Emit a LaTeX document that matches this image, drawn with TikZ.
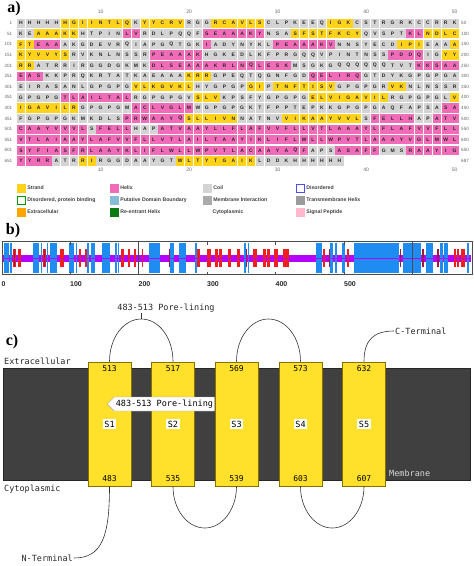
\documentclass[tikz,border=0pt]{standalone}
\usepackage{fontspec}
\setmainfont{Liberation Serif}
\setsansfont{Liberation Sans}
\setmonofont{DejaVu Sans Mono}
\usetikzlibrary{positioning,shapes.symbols}

\definecolor{seqY}{HTML}{FFD21C}
\definecolor{seqP}{HTML}{F06CB8}
\definecolor{seqG}{HTML}{D4D4D4}
\definecolor{legOrange}{HTML}{FFA500}
\definecolor{legBlue}{HTML}{86BCD8}
\definecolor{legGreen}{HTML}{0B7A12}
\definecolor{legMemb}{HTML}{ABABAB}
\definecolor{legTM}{HTML}{9B9B9B}
\definecolor{legSignal}{HTML}{FFB8CC}
\definecolor{barBlue}{HTML}{1E8CF0}
\definecolor{barRed}{HTML}{F01E1E}
\definecolor{barDark}{HTML}{A0183C}
\definecolor{barViolet}{HTML}{B400FF}
\definecolor{helixY}{HTML}{FFE12C}
\definecolor{helixEdge}{HTML}{8A7000}
\definecolor{membGray}{HTML}{404040}

% Sequência: um nó por resíduo
\newcounter{seqrow}
\newcounter{seqcol}
\newcommand\seqcell[2]{%
  \stepcounter{seqcol}%
  \node[res,fill=seq#1] (r\arabic{seqrow}c\arabic{seqcol})
    at ({12.075+8.85*\arabic{seqcol}},{12.6+10.6*\arabic{seqrow}}) {#2};}
\ExplSyntaxOn
\cs_new_protected:Npn \seqseg #1#2
  { \tl_map_inline:Nn #2 { \exp_args:No \seqcell {#1} {##1} } }
\ExplSyntaxOff
\newcommand\seqrow[2]{%
  \setcounter{seqrow}{#1}\setcounter{seqcol}{0}%
  \foreach \rc/\rs in {#2}{\seqseg{\rc}{\rs}}}
\newcommand\bx[1]{1.5+0.685*#1}

\tikzset{
  res/.style={rectangle, minimum width=8.3pt, minimum height=9.2pt, inner sep=0pt,
    font=\sffamily\bfseries\fontsize{5}{5}\selectfont, text=black!85},
  rownum/.style={inner sep=0.5pt, font=\sffamily\fontsize{4.6}{5}\selectfont, text=black!60},
  colnum/.style={inner sep=0.5pt, font=\sffamily\fontsize{5}{5}\selectfont, text=black!60},
  panel/.style={inner sep=0pt, font=\rmfamily\bfseries\fontsize{16}{16}\selectfont},
  legbox/.style={rectangle, minimum width=7.7pt, minimum height=8pt, inner sep=0pt},
  legtext/.style={inner sep=0.5pt, font=\sffamily\bfseries\fontsize{5.2}{6}\selectfont, text=black!75},
  axnum/.style={inner sep=0pt, font=\sffamily\bfseries\fontsize{7}{7}\selectfont, text=black!85},
  axisline/.style={draw=black!70, line width=0.6pt},
  tmhelix/.style={rectangle, fill=helixY, draw=helixEdge, line width=0.9pt,
    minimum width=43pt, minimum height=124pt, inner sep=0pt},
  tmnum/.style={inner sep=0.5pt, font=\ttfamily\fontsize{8}{8}\selectfont},
  tmtag/.style={fill=white, inner sep=1.8pt, font=\ttfamily\fontsize{8.5}{8.5}\selectfont},
  tmtext/.style={inner sep=1pt, font=\ttfamily\fontsize{8.5}{8.5}\selectfont, text=black!85},
  porebox/.style={shape=signal, signal to=west, fill=white, draw=black!35, line width=0.4pt,
    inner sep=1.5pt, minimum height=14pt, font=\ttfamily\fontsize{8.5}{8.5}\selectfont},
  loopline/.style={draw=black!80, line width=0.6pt},
}

\begin{document}
\begin{tikzpicture}[x=1pt, y=-1pt]
  \useasboundingbox (0,0) rectangle (474,566);

  % Painel a)
  \node[panel] (pa) at (14,9) {a)};
  \foreach \k in {10,20,30,40,50} {
    \node[colnum] (ct\k) at ({12.075+8.85*\k},11.5) {\k};
    \node[colnum] (cb\k) at ({12.075+8.85*\k},170) {\k};
  }
  \foreach \i/\lft/\rgt in {1/1/50,2/51/100,3/101/150,4/151/200,5/201/250,6/251/300,
      7/301/350,8/351/400,9/401/450,10/451/500,11/501/550,12/551/600,13/601/650,14/651/687} {
    \node[rownum, anchor=east] (rl\i) at (13,{12.6+10.6*\i}) {\lft};
    \node[rownum, anchor=west] (rr\i) at (460.5,{12.6+10.6*\i}) {\rgt};
  }

  \seqrow{1}{G/HHHHH,Y/HGIINTLQ,G/K,Y/YYCRV,G/RGG,Y/RCAVLS,G/CLPKEEQ,Y/IGK,G/CSTRGRKCCRRK}
  \seqrow{2}{G/KE,Y/AAAKK,G/HTPIN,P/LV,G/RDLPQQF,P/SEAAAKY,G/NSA,Y/SFSTFKCY,G/QVSPT,P/KL,Y/NDLC}
  \seqrow{3}{Y/FT,P/EAA,G/AKGDEVRQIAPGQTGK,P/I,G/ADYNYKL,P/PEAAAKV,G/NNSYECD,Y/IPI,G/EAA,Y/A}
  \seqrow{4}{Y/KYVVYS,G/RVKNLNSSR,P/PEAAAK,G/HGKEDLKFPRGQQVPINTNSS,P/PDDQ,G/IG,Y/YY}
  \seqrow{5}{Y/RR,G/ATRRIRGGDGKMK,P/DLSEAAAKRLNQLESK,G/MSGKGQQQQQQTVT,P/KKSAA}
  \seqrow{6}{P/EAS,G/KKPRQKRTATKAEAAA,Y/KRR,G/GPEQTQGNFGD,P/QELIRQ,G/GTDYKGPGPGA}
  \seqrow{7}{G/EIRASANLGPGPG,Y/VLKGVKL,G/HYGPGP,Y/GI,G/P,Y/TNFTISV,G/GPGPGR,Y/VK,G/NLNSSR}
  \seqrow{8}{G/GPGPG,P/TLAILTAL,G/RGPGPGV,Y/SLV,G/KPSFYGPGPG,Y/ELVIGAVIL,G/RGPGPGL,Y/V}
  \seqrow{9}{Y/IGAVILR,G/GPGPGM,P/ACLVGLM,G/WGPGPGKTFPPTEPKKGPGPGAQFAPSA,P/SA}
  \seqrow{10}{G/FGPGPGKMKDLS,P/PRWAAYQ,Y/SLLIVN,G/NATNV,Y/VIKAAYVVL,G/S,P/FELLH,G/AP,P/ATV}
  \seqrow{11}{P/CAAYVVVL,G/S,P/FELL,G/HAP,P/ATVAAYLLFLAFVVFLLVTLAAAYLFLAFVVFLL}
  \seqrow{12}{P/VTLAIAAYLAFVVFLLVTLAILTAAYIKLIFLWLLWPVTLAAAYVGLMWL}
  \seqrow{13}{P/SYFIASFRLAAYKLIFLWLLWPVTLACAAYAQF,G/APS,P/ASAFF,G/GMS,P/RAAYIG}
  \seqrow{14}{P/YYRR,G/ATR,Y/RI,G/RGGDAAYGT,Y/WLTYTGAIK,G/LDDKHHHHHH}

  % Legenda
  \foreach \nm/\cx/\cy/\fc/\dc/\txt in {
      strand/21/188/seqY/seqY/Strand,
      dprot/21/200/white/green!60!black/{Disordered, protein binding},
      extra/21/212/legOrange/legOrange/Extracellular,
      helix/114/188/seqP/seqP/Helix,
      domain/114/200/legBlue/legBlue/Putative Domain Boundary,
      reent/114/212/legGreen/legGreen/Re-entrant Helix,
      coil/207/188/seqG/seqG/Coil,
      membint/207/200/legMemb/legMemb/Membrane Interaction,
      disord/300/188/white/blue!70/Disordered,
      tmh/300/200/legTM/legTM/Transmembrane Helix,
      signal/300/212/legSignal/legSignal/Signal Peptide} {
    \node[legbox, fill=\fc, draw=\dc, line width=0.6pt] (l\nm) at (\cx,\cy) {};
    \node[legtext, right=1.5pt of l\nm] (l\nm txt) {\txt};
  }
  \node[legtext, anchor=west] (lcyto txt) at (211.8,212) {Cytoplasmic};

  % Painel b)
  \node[panel] (pb) at (13,231) {b)};
  \fill[barViolet] (3,254.5) rectangle (471,261.5);
  \foreach \a/\b in {4/11,12/16,46/55,58/59,66/68,71/81,98/106,109/110.5,125.5/127.5,
      130.5/136.5,146/158,166/168,170.5/172,215/231.5,246/252,259/269,282/285,354.5/356.5,
      360.5/361.5,459/468,479.5/484.5,487/490.5,496.5/501.5,515/528.5,529.7/547.5,
      548.5/559.5,560.4/572.3,573.3/579.8,586.5/596,597/612,620.4/630.4,640.3/645.2,
      646.2/652.2,679/682}
    \fill[barBlue] ({\bx{\a}},243) rectangle ({\bx{\b}},273);
  \foreach \a/\b in {17/21,24/29,61/65,86/91,112.5/115.5,121.5/124.5,175/179,185/188,
      193/197,204.8/206.8,286/290,299.5/305.5,312/316.4,317.4/321.8,330.8/335.7,343.7/348.6,
      367.5/372.4,382.4/386.8,387.8/392.3,397.2/404.2,411/414.6,415.6/419,468.7/472.6,
      504.4/507.3,660/663,665/668,671/677}
    \fill[barRed] ({\bx{\a}},248.5) rectangle ({\bx{\b}},267);
  \foreach \a/\b in {18.3/19.8,62/63.4,244.5/246.5,357.6/358.5,477.6/479.6,581.7/583.7,
      613.5/616.5,636.3/639.3}
    \fill[barDark] ({\bx{\a}},248.5) rectangle ({\bx{\b}},267);
  \draw[barViolet, line width=0.4pt] (3,258) -- (471,258);
  \draw[axisline] (2,241.5) rectangle (472,274.5);
  \foreach \t in {100,300,400,500} {
    \draw[axisline] ({\bx{\t}},241.5) -- ++(0,3);
    \draw[axisline] ({\bx{\t}},274.5) -- ++(0,-3);
  }
  \draw[axisline] ({\bx{200}},241.5) -- ({\bx{200}},274.5);
  \draw[axisline] ({\bx{600}},241.5) -- ({\bx{600}},274.5);
  \foreach \t in {0,100,200,300,400,500}
    \node[axnum, anchor=west] (ax\t) at ({\bx{\t}},284) {\t};

  % Painel c)
  \node[panel] (pc) at (12,342) {c)};
  \fill[membGray] (3,368) rectangle (470,480);
  \draw[black!85, line width=0.5pt] (3,368) rectangle (470,480);
  \node[tmtext, anchor=west] (extra) at (3,361) {Extracellular};
  \node[tmtext, anchor=west] (cyto) at (3,489) {Cytoplasmic};
  \node[tmtext, anchor=west, text=black!15] (memb) at (388,473) {Membrane};

  % Hélices transmembrana
  \foreach \n/\x/\nt/\nb in {1/109.5/513/483,2/173/517/535,3/236.5/569/539,
      4/300.5/573/603,5/364/632/607} {
    \node[tmhelix] (s\n) at (\x,424) {};
    \node[tmnum, below=3.5pt of s\n.north] (s\n t) {\nt};
    \node[tmnum, above=4pt of s\n.south] (s\n b) {\nb};
    \node[tmtag] (s\n tag) at (s\n) {S\n};
  }

  % Alças
  \coordinate (loopAtop) at (141.25,319);
  \coordinate (loopBtop) at (268.5,319);
  \coordinate (loopCbot) at (204.75,528);
  \coordinate (loopDbot) at (332.25,528);
  \draw[loopline] (s1.north) .. controls +(0,-24) and +(-17.5,0) .. (loopAtop)
    .. controls +(17.5,0) and +(0,-24) .. (s2.north);
  \draw[loopline] (s3.north) .. controls +(0,-24) and +(-17.5,0) .. (loopBtop)
    .. controls +(17.5,0) and +(0,-24) .. (s4.north);
  \draw[loopline] (s2.south) .. controls +(0,23) and +(-17.5,0) .. (loopCbot)
    .. controls +(17.5,0) and +(0,23) .. (s3.south);
  \draw[loopline] (s4.south) .. controls +(0,23) and +(-17.5,0) .. (loopDbot)
    .. controls +(17.5,0) and +(0,23) .. (s5.south);

  % Terminais e rótulos
  \node[tmtext] (porelab) at (166,308) {483-513 Pore-lining};
  \draw[loopline] (porelab.south -| loopAtop) -- (loopAtop);
  \node[tmtext, anchor=west] (cterm) at (394,331) {C-Terminal};
  \draw[loopline] (s5.north) .. controls +(0,-22) and +(-20,0) .. (cterm.west);
  \node[tmtext, anchor=east] (nterm) at (74,558) {N-Terminal};
  \draw[loopline] (s1.south) .. controls +(0,50) and +(28,0) .. (nterm.east);
  \node[porebox, anchor=west] (pore) at (107,404) {483-513 Pore-lining};
\end{tikzpicture}
\end{document}
